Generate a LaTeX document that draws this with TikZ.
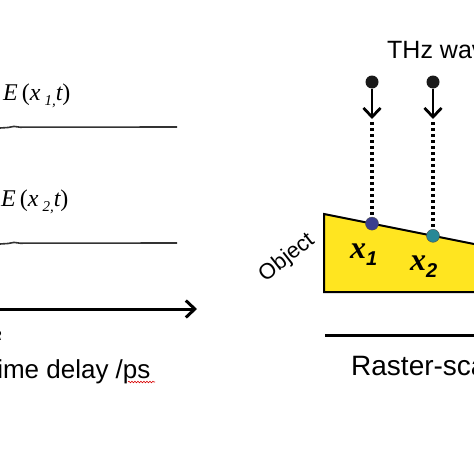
\documentclass[tikz,border=0pt]{standalone}
\usepackage{fontspec}
\setmainfont{Liberation Sans}
\newfontfamily\serifbi{Liberation Serif}
\usetikzlibrary{arrows.meta,calc,decorations.pathmorphing}
\definecolor{objyellow}{RGB}{255,229,32}
\definecolor{ptnavy}{RGB}{58,62,142}
\definecolor{ptteal}{RGB}{40,136,150}
\def\ptlab#1{{\serifbi\bfseries\itshape\fontsize{32}{32}\selectfont x}{\bfseries\itshape\fontsize{20}{20}\selectfont\raisebox{-7pt}{#1}}}
\def\fieldlab#1{{\serifbi\fontsize{24}{26}\selectfont\itshape E\,\upshape(\itshape x\,\raisebox{-5pt}{\fontsize{15}{15}\selectfont #1,}t\upshape)}}
\tikzset{
  signal/.style={line width=1.6pt, color=black!80},
  beam/.style={line width=2.8pt, -{Straight Barb[length=9pt,width=17pt,line width=2.8pt]}},
  probe/.style={line width=3.5pt, dash pattern=on 3pt off 3pt},
  source/.style={circle, fill=black!90, inner sep=0pt, minimum size=13pt},
  spot/.style={circle, draw=black!70, line width=0.4pt, inner sep=0pt, minimum size=13pt},
  lab/.style={font=\fontsize{26}{28}\selectfont}
}
\begin{document}
\begin{tikzpicture}[x=1pt,y=-1pt]
			%%%%% START %%%%%
			\useasboundingbox (0,0) rectangle (474,474);
			\clip (0,0) rectangle (474,474);
			
			% time traces
			\node[anchor=base west, inner sep=0pt] (sig1) at (3,100) {\fieldlab{1}};
			\draw[signal] (0,128) -- (8,127.5) -- (14,126.4) -- (20,127.2) -- (177,127);
			
			\node[anchor=base west, inner sep=0pt] (sig2) at (1,206) {\fieldlab{2}};
			\draw[signal] (0,244) -- (8,243.5) -- (14,242.4) -- (20,243.2) -- (177,243);
			
			\draw[line width=3pt, -{Straight Barb[length=9pt,width=17pt,line width=3pt]}] (0,309) -- (197,309);
			\node[anchor=base east, font=\fontsize{20}{22}\selectfont] (tlab) at (6,337) {$t_2$};
			\node[lab, anchor=base east] (axlab) at (154,378) {Time delay /ps};
			\draw[red!85!black, line width=0.6pt, decorate, decoration={snake, amplitude=0.8pt, segment length=3pt}] (128,382) -- (155,382);
			
			% object
			\draw[fill=objyellow, line width=2pt] (324,214) -- (490,247.2) -- (490,292) -- (324,292) -- cycle;
			\node[rotate=38, font=\fontsize{22}{24}\selectfont] (objlab) at (287,258) {Object};
			
			\node[source] (src1) at (372,82) {};
			\node[source] (src2) at (433,82) {};
			\node[spot, fill=ptnavy] (pt1) at (372,223.6) {};
			\node[spot, fill=ptteal] (pt2) at (433,235.8) {};
			\coordinate (tip1) at (372,119);
			\coordinate (tip2) at (433,119);
			
			\draw[beam] (src1) -- (tip1);
			\draw[beam] (src2) -- (tip2);
			\draw[probe] ($(tip1)+(0,3)$) -- (pt1);
			\draw[probe] ($(tip2)+(0,3)$) -- (pt2);
			
			\node[anchor=base west, inner sep=0pt] (x1lab) at (350,258) {\ptlab{1}};
			\node[anchor=base west, inner sep=0pt] (x2lab) at (410,270) {\ptlab{2}};
			
			\node[anchor=base west, font=\fontsize{25}{27}\selectfont, inner sep=0pt] (thz) at (387,58) {THz wave};
			
			% scan
			\draw[line width=3pt] (325,335) -- (490,335);
			\node[anchor=base west, font=\fontsize{28}{30}\selectfont, inner sep=0pt] (scan) at (351,375) {Raster-scan};
			%%%%% END %%%%%
\end{tikzpicture}
\end{document}
